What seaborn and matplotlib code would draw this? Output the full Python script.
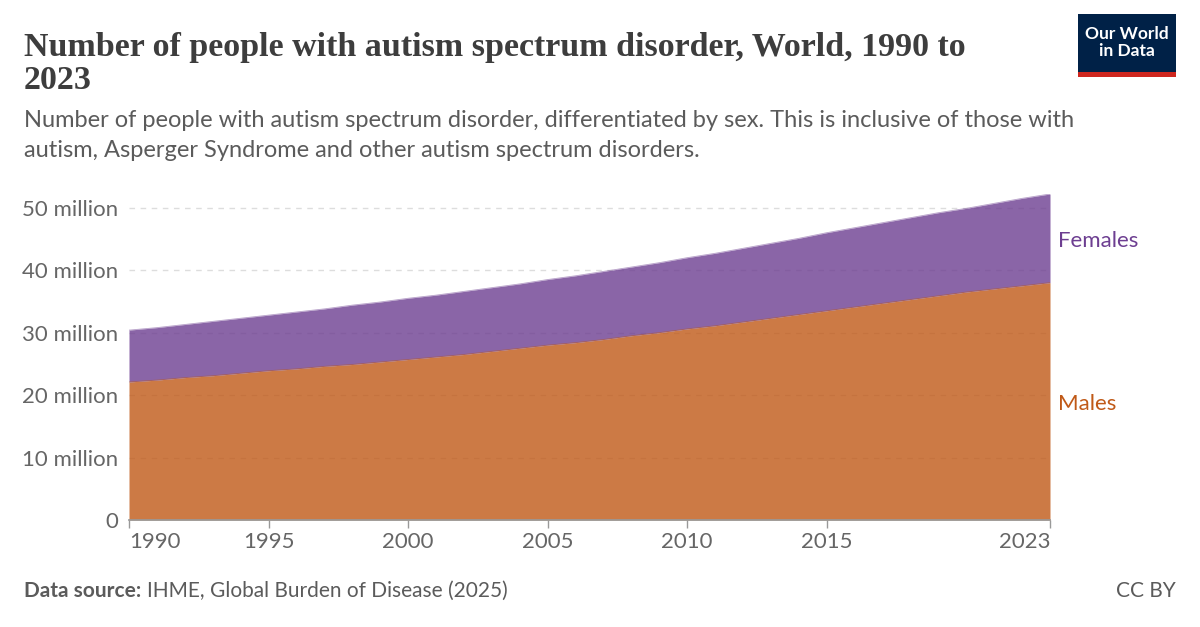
import matplotlib
matplotlib.use("Agg")
import matplotlib.pyplot as plt
from matplotlib.patches import Rectangle
import pandas as pd
import seaborn as sns

# values, in millions
years = list(range(1990, 2024))
males = [22.1, 22.4, 22.8, 23.1, 23.5, 23.9, 24.2, 24.6, 24.9, 25.3,
         25.7, 26.1, 26.5, 27.0, 27.5, 28.0, 28.4, 28.9, 29.5, 30.0,
         30.6, 31.1, 31.7, 32.3, 32.9, 33.5, 34.1, 34.7, 35.3, 35.9,
         36.5, 37.0, 37.5, 38.0]
total = [30.4, 30.8, 31.3, 31.8, 32.3, 32.8, 33.3, 33.8, 34.4, 34.9,
         35.5, 36.0, 36.6, 37.2, 37.8, 38.5, 39.1, 39.8, 40.5, 41.2,
         42.0, 42.7, 43.5, 44.3, 45.1, 46.0, 46.8, 47.6, 48.4, 49.2,
         49.9, 50.7, 51.5, 52.2]
females = [round(t - m, 1) for t, m in zip(total, males)]
x_ticks = [1990, 1995, 2000, 2005, 2010, 2015, 2023]
y_ticks = [0, 10, 20, 30, 40, 50]
y_labels = ["0", "10 million", "20 million", "30 million", "40 million", "50 million"]

df = pd.DataFrame({"year": years, "Males": males, "Females": females})
df["top"] = df["Males"] + df["Females"]

sns.set_theme(style="white")
plt.rcParams['font.family'] = ['Lato', 'DejaVu Sans']

fig = plt.figure(figsize=(12, 6.27), dpi=100)
ax = fig.add_axes([0.1075, 0.1707, 0.7675, 0.5199])

c_m = "#c05917"
c_f = "#6d3e91"

for y in y_ticks[1:]:
    ax.axhline(y, color="#dddddd", lw=1, ls=(0, (4, 4)), zorder=0)

ax.fill_between(df["year"], 0, df["Males"], color=c_m, alpha=0.8, lw=0, zorder=2)
ax.fill_between(df["year"], df["Males"], df["top"], color=c_f, alpha=0.8, lw=0, zorder=2)
sns.lineplot(x="year", y="Males", data=df, ax=ax, color=c_m, lw=0.6, alpha=0.5, zorder=3)
sns.lineplot(x="year", y="top", data=df, ax=ax, color=c_f, lw=0.6, alpha=0.5, zorder=3)

ax.set_xlim(1990, 2023)
ax.set_ylim(0, 52.2)
ax.set_xlabel("")
ax.set_ylabel("")
ax.set_xticks(x_ticks)
ax.set_xticklabels([str(t) for t in x_ticks])
ax.set_yticks(y_ticks)
ax.set_yticklabels(y_labels)
for s in ["top", "right", "left"]:
    ax.spines[s].set_visible(False)
ax.spines["bottom"].set_color("#999999")
ax.spines["bottom"].set_zorder(4)
ax.tick_params(axis="x", labelcolor="#666666", labelsize=16, length=6, width=1,
               direction="out", bottom=True, pad=3, color="#999999")
ax.tick_params(axis="y", labelcolor="#666666", labelsize=16, length=0, pad=8)
xl = ax.get_xticklabels()
xl[0].set_ha("left")
xl[-1].set_ha("right")

# series labels
ax.text(1.009, (df["Males"].iloc[-1] + df["top"].iloc[-1]) / 2 / 52.2 - 0.009, "Females",
        transform=ax.transAxes, color=c_f, fontsize=16, va="center", ha="left")
ax.text(1.009, df["Males"].iloc[-1] / 2 / 52.2 - 0.008, "Males",
        transform=ax.transAxes, color=c_m, fontsize=16, va="center", ha="left")

# header
fig.text(0.02, 0.949, "Number of people with autism spectrum disorder, World, 1990 to\n2023",
         family=["Liberation Serif", "DejaVu Serif"], fontsize=24.5, fontweight="bold",
         color="#3d3d3d", va="top", ha="left", linespacing=1.08)
fig.text(0.02, 0.824, "Number of people with autism spectrum disorder, differentiated by sex. "
         "This is inclusive of those with\nautism, Asperger Syndrome and other autism spectrum disorders.",
         fontsize=17, color="#5b5b5b", va="top", ha="left", linespacing=1.5)

# logo
fig.patches.append(Rectangle((0.8983, 0.885), 0.0817, 0.093, transform=fig.transFigure,
                             facecolor="#002147", edgecolor="none"))
fig.patches.append(Rectangle((0.8983, 0.877), 0.0817, 0.008, transform=fig.transFigure,
                             facecolor="#ce261e", edgecolor="none"))
fig.text(0.9392, 0.932, "Our World\nin Data", color="white", fontsize=12.5, fontweight="bold",
         ha="center", va="center", linespacing=1.05)

# footer
fig.text(0.02, 0.057, "Data source:", fontsize=15, color="#5b5b5b", fontweight="bold",
         ha="left", va="center")
fig.text(0.1225, 0.057, "IHME, Global Burden of Disease (2025)", fontsize=15, color="#5b5b5b",
         ha="left", va="center")
fig.text(0.98, 0.057, "CC BY", fontsize=15, color="#5b5b5b", ha="right", va="center")

fig.savefig("out.png", dpi=100)
